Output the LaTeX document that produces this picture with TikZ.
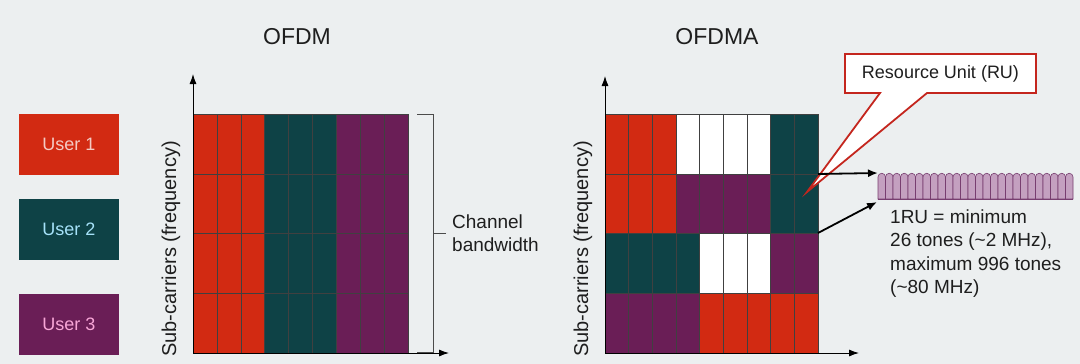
\documentclass[tikz,border=0pt]{standalone}
\usepackage{fontspec}
\setmainfont{Liberation Sans}
\usetikzlibrary{arrows.meta}

\definecolor{bgcol}{RGB}{236,239,240}
\definecolor{ured}{RGB}{210,42,18}
\definecolor{uteal}{RGB}{14,66,70}
\definecolor{upurple}{RGB}{106,30,86}
\definecolor{txt}{RGB}{30,30,30}
\definecolor{rured}{RGB}{196,38,30}
\definecolor{tonefill}{RGB}{196,160,192}
\definecolor{toneedge}{RGB}{120,62,112}

\tikzset{
  title/.style={font=\fontsize{23}{27}\selectfont,text=txt},
  user/.style={minimum width=100pt,minimum height=61pt,inner sep=0pt,
    font=\fontsize{18}{22}\selectfont},
  cell/.style={draw=black!75,line width=0.5pt},
  axis/.style={line width=0.9pt,{Latex[length=10pt,width=7pt]}-{Latex[length=10pt,width=7pt]}},
  ylab/.style={rotate=90,font=\fontsize{20}{24}\selectfont,text=txt},
  bracket/.style={draw=txt!80,line width=0.8pt},
  note/.style={inner sep=0pt,align=left,font=\fontsize{19}{23.5}\selectfont,text=txt},
  ruarrow/.style={line width=1.8pt,-{Latex[length=10pt,width=8pt]}},
  tone/.style={fill=tonefill,draw=toneedge,line width=0.6pt}
}

\begin{document}
\begin{tikzpicture}[x=1pt,y=-1pt]
  \fill[bgcol] (0,0) rectangle (1080,364);
  \useasboundingbox (0,0) rectangle (1080,364);

  %% Titles
  \node[title] (ofdm) at (297,37) {OFDM};
  \node[title] (ofdma) at (717,37) {OFDMA};

  %% Users
  \node[user,fill=ured,text=ured!25!white] (user1) at (69,144.5) {User 1};
  \node[user,fill=uteal,text=cyan!35!white] (user2) at (69,229.5) {User 2};
  \node[user,fill=upurple,text=magenta!35!white] (user3) at (69,324.5) {User 3};

  %% OFDM grid
  \foreach \r in {0,...,3}
    \foreach \c [count=\i from 0] in {ured,ured,ured,uteal,uteal,uteal,upurple,upurple,upurple}
      \filldraw[cell,fill=\c] (193+\i*23.89,114+\r*59.75) rectangle ++(23.89,59.75);
  \coordinate (ya) at (193,74);
  \coordinate (xa) at (449,353);
  \draw[axis] (ya) |- (xa);
  \node[ylab] (suba) at (171,249) {Sub-carriers (frequency)};

  %% Channel bandwidth bracket
  \draw[bracket] (417,114) -- (433,114) -- (433,352) -- (417,352);
  \draw[bracket] (433,233) -- (446,233);
  \node[note,anchor=west] (chbw) at (452,233) {Channel\\bandwidth};

  %% OFDMA grid
  \foreach \row [count=\r from 0] in {
      {ured,ured,ured,white,white,white,white,uteal,uteal},
      {ured,ured,ured,upurple,upurple,upurple,upurple,uteal,uteal},
      {uteal,uteal,uteal,uteal,white,white,white,upurple,upurple},
      {upurple,upurple,upurple,upurple,ured,ured,ured,ured,ured}}
    \foreach \c [count=\i from 0] in \row
      \filldraw[cell,fill=\c] (605+\i*23.67,114+\r*59.75) rectangle ++(23.67,59.75);
  \coordinate (yb) at (605,76);
  \coordinate (xb) at (859,353);
  \draw[axis] (yb) |- (xb);
  \node[ylab] (subb) at (583,249) {Sub-carriers (frequency)};

  %% Resource unit callout
  \draw[draw=rured,line width=1.8pt,fill=white] (845,54) -- (1036,54) -- (1036,93)
    -- (927,93) -- (807,192) -- (880,93) -- (845,93) -- cycle;
  \node[font=\fontsize{18}{22}\selectfont,text=txt] (ru) at (940.5,73.5) {Resource Unit (RU)};

  %% Tones of one RU
  \foreach \k in {0,...,25}
    \filldraw[tone] (878+\k*7.5,199) -- ++(0,-22)
      arc[start angle=180,end angle=360,radius=3.75] -- ++(0,22) -- cycle;
  \draw[toneedge,line width=1pt] (878,199) -- (1073,199);

  \coordinate (rutop) at (818,174);
  \coordinate (rubot) at (818,233);
  \coordinate (tonetop) at (878,173);
  \coordinate (tonebot) at (877,202);
  \draw[ruarrow] (rutop) -- (tonetop);
  \draw[ruarrow] (rubot) -- (tonebot);

  \node[note,anchor=north west] (rudesc) at (890,209.5)
    {1RU = minimum\\26 tones (\textasciitilde2 MHz),\\maximum 996 tones\\(\textasciitilde80 MHz)};
\end{tikzpicture}
\end{document}
